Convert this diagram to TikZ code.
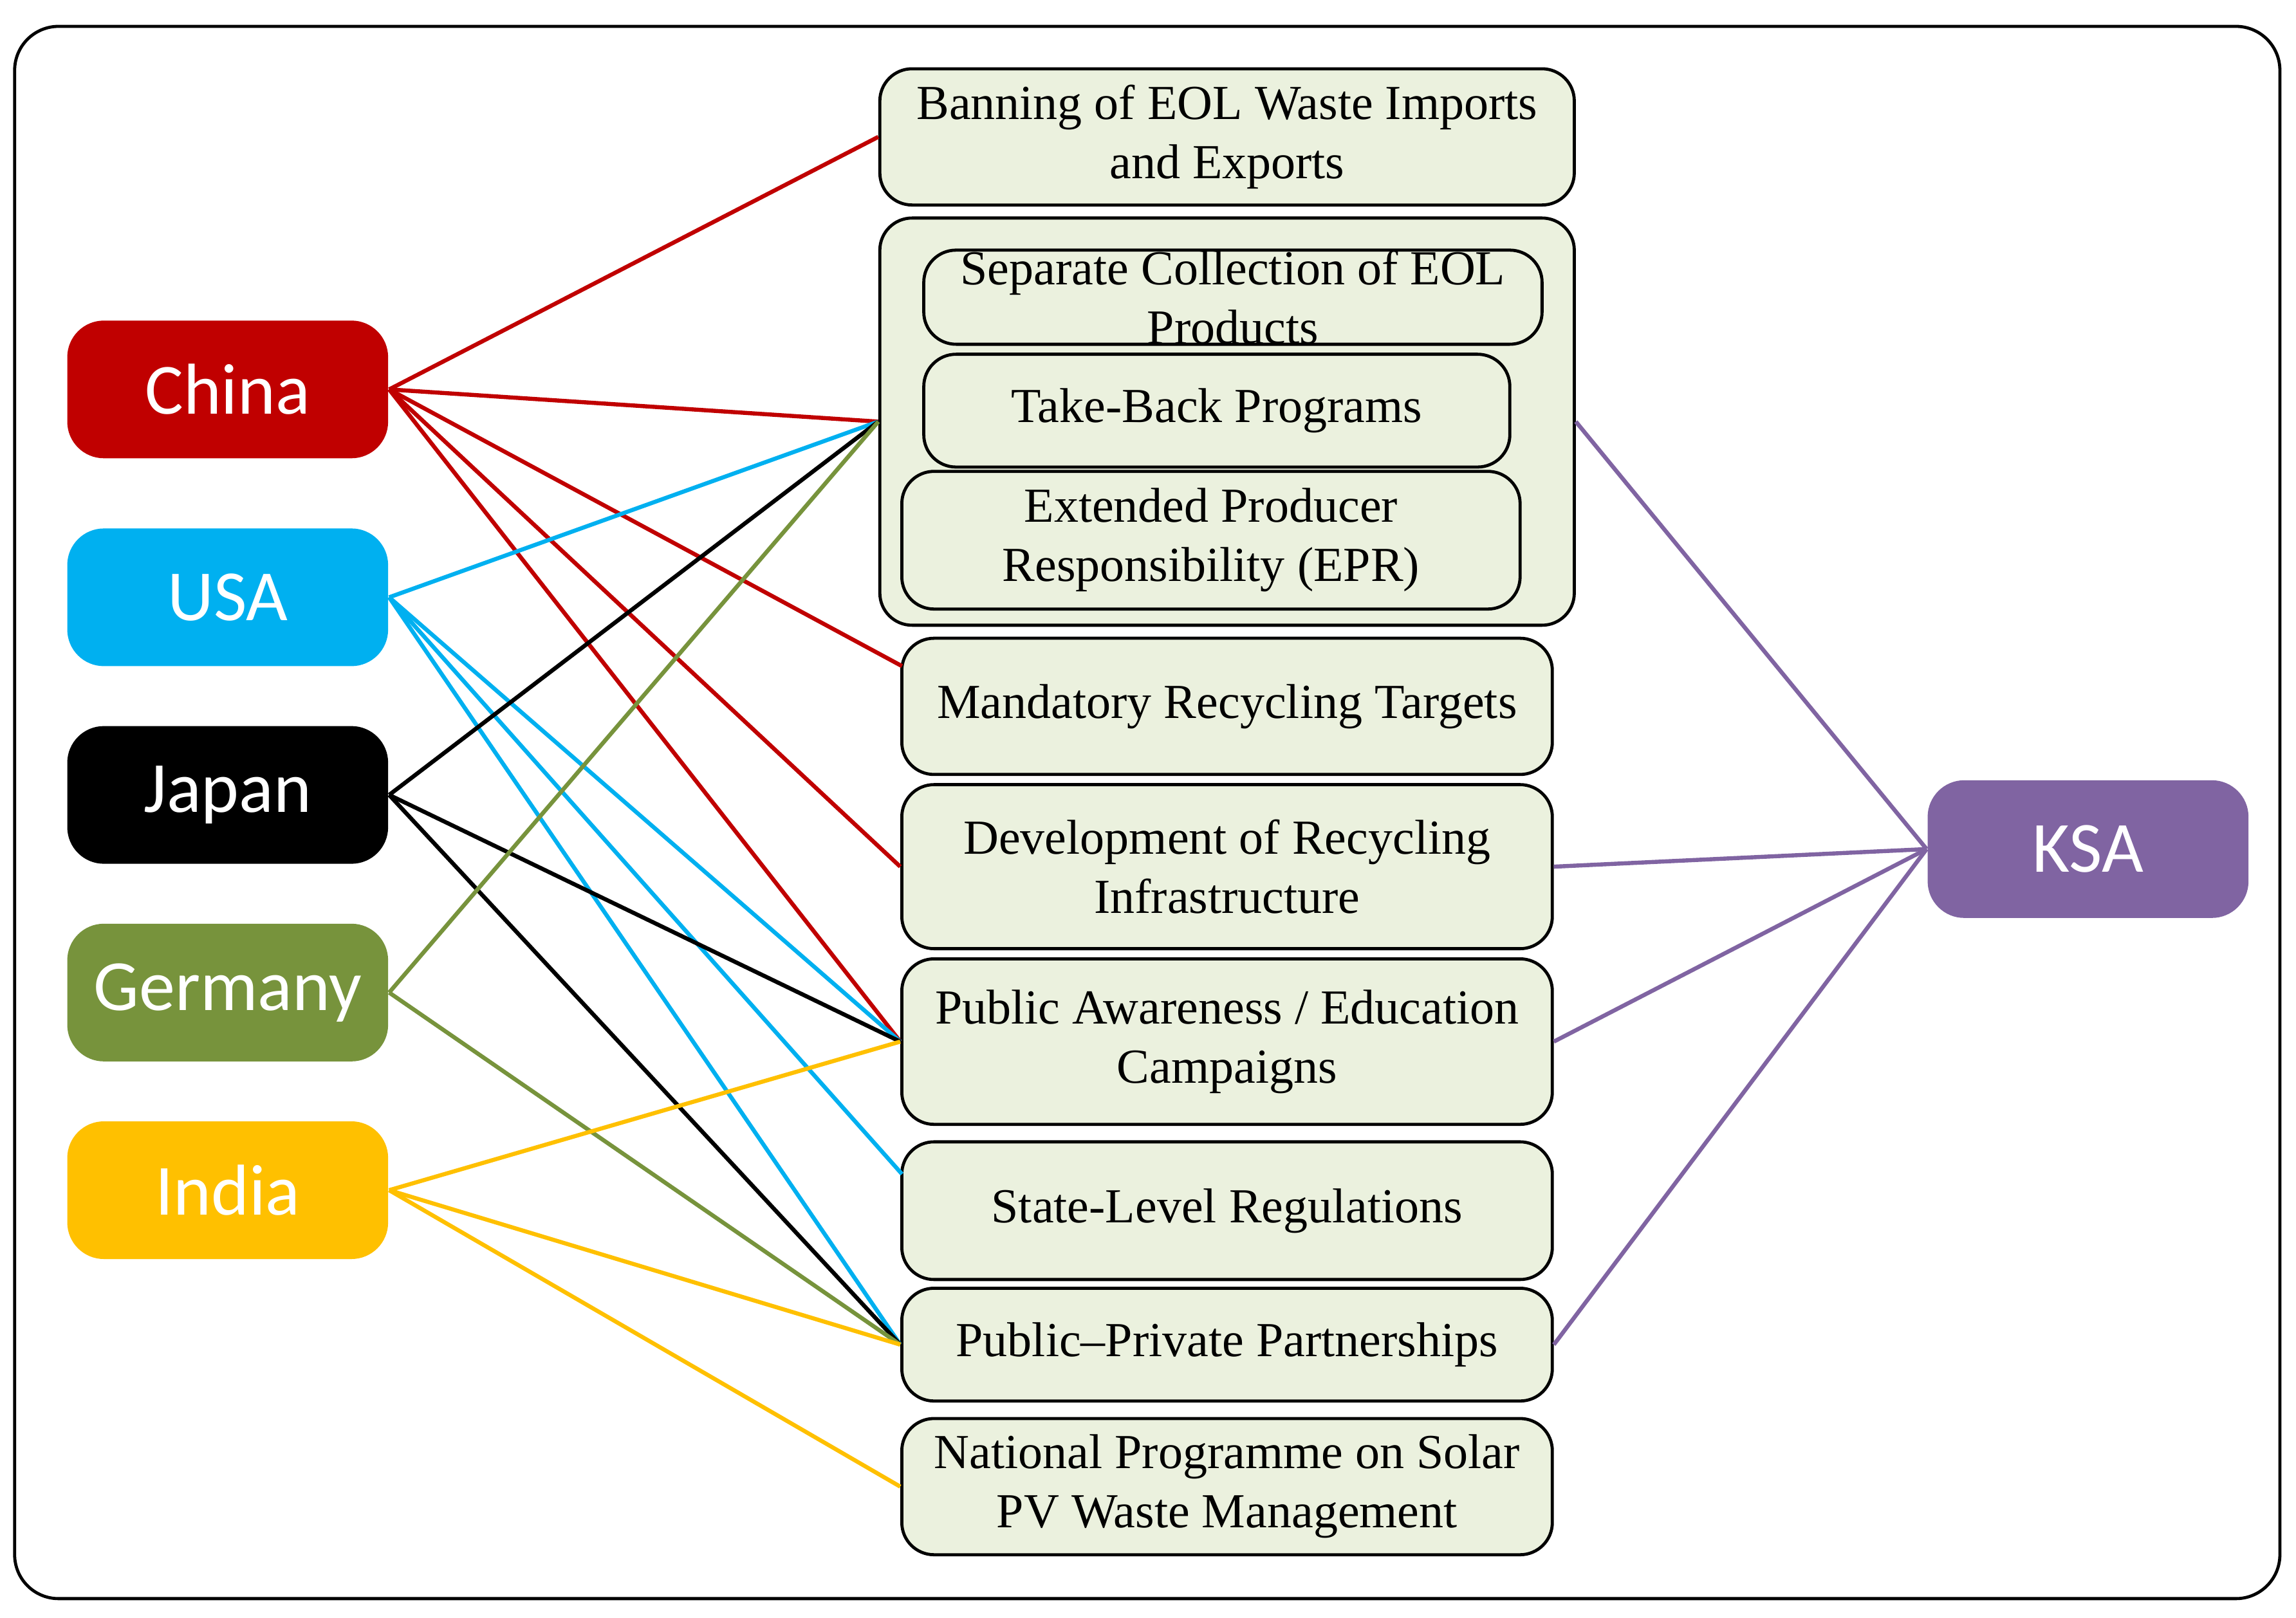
\documentclass[tikz,border=0pt]{standalone}
\usepackage{fontspec}
\setmainfont{Liberation Serif}
\newfontfamily\ctryfont{Carlito}
\begin{document}
\begin{tikzpicture}[x=0.01cm,y=-0.01cm,
 box/.style={draw,rounded corners=0.22cm,fill=boxfill,line width=0.6pt,align=center,font=\fontsize{9.5}{11.5}\selectfont,inner sep=0pt},
 ctry/.style={rounded corners=0.25cm,minimum width=2.19cm,minimum height=0.94cm,text=white,font=\ctryfont\fontsize{14}{16}\selectfont,inner sep=0pt},
 ln/.style={line width=0.8pt}]
\definecolor{boxfill}{HTML}{EBF1DE}
\definecolor{cchina}{HTML}{C00000}
\definecolor{cusa}{HTML}{00B0F0}
\definecolor{cger}{HTML}{77933C}
\definecolor{cind}{HTML}{FFC000}
\definecolor{cksa}{HTML}{8064A2}
\useasboundingbox (0,0) rectangle (1568,1105);
\draw[rounded corners=0.3cm,line width=0.6pt] (10,18) rectangle (1557,1092);
% countries
\node[ctry,fill=cchina] (china) at (155.5,266) {China};
\node[ctry,fill=cusa] (usa) at (155.5,408) {USA};
\node[ctry,fill=black] (japan) at (155.5,543) {Japan};
\node[ctry,fill=cger] (germany) at (155.5,678) {Germany};
\node[ctry,fill=cind] (india) at (155.5,813) {India};
\node[ctry,fill=cksa] (ksa) at (1426,580) {KSA};
% boxes
\node[box,minimum width=4.74cm,minimum height=0.93cm] (ban) at (838,93.5) {Banning of EOL Waste Imports\\and Exports};
\node[box,minimum width=4.74cm,minimum height=2.78cm] (grp) at (838,288) {};
\node[box,minimum width=4.22cm,minimum height=0.64cm] (sep) at (842,203) {Separate Collection of EOL\\Products};
\node[box,minimum width=4.00cm,minimum height=0.77cm] (take) at (831,280.5) {Take-Back Programs};
\node[box,minimum width=4.22cm,minimum height=0.94cm] (epr) at (827,369) {Extended Producer\\Responsibility (EPR)};
\node[box,minimum width=4.44cm,minimum height=0.93cm] (mand) at (838,482.5) {Mandatory Recycling Targets};
\node[box,minimum width=4.44cm,minimum height=1.12cm] (dev) at (838,592) {Development of Recycling\\Infrastructure};
\node[box,minimum width=4.44cm,minimum height=1.13cm] (pa) at (838,711.5) {Public Awareness / Education\\Campaigns};
\node[box,minimum width=4.44cm,minimum height=0.94cm] (state) at (838,827) {State-Level Regulations};
\node[box,minimum width=4.44cm,minimum height=0.77cm] (ppp) at (838,918.5) {Public--Private Partnerships};
\node[box,minimum width=4.44cm,minimum height=0.93cm] (nat) at (838,1015.5) {National Programme on Solar\\PV Waste Management};
\coordinate (mandw) at (616,455);
\coordinate (statew) at (616,802);
% lines
\draw[ln,cchina] (china.east) -- (ban.west);
\draw[ln,cchina] (china.east) -- (grp.west);
\draw[ln,cchina] (china.east) -- (mandw);
\draw[ln,cchina] (china.east) -- (dev.west);
\draw[ln,cchina] (china.east) -- (pa.west);
\draw[ln,cusa] (usa.east) -- (grp.west);
\draw[ln,cusa] (usa.east) -- (pa.west);
\draw[ln,cusa] (usa.east) -- (statew);
\draw[ln,cusa] (usa.east) -- (ppp.west);
\draw[ln,black] (japan.east) -- (grp.west);
\draw[ln,black] (japan.east) -- (pa.west);
\draw[ln,black] (japan.east) -- (ppp.west);
\draw[ln,cger] (germany.east) -- (grp.west);
\draw[ln,cger] (germany.east) -- (ppp.west);
\draw[ln,cind] (india.east) -- (pa.west);
\draw[ln,cind] (india.east) -- (ppp.west);
\draw[ln,cind] (india.east) -- (nat.west);
\draw[ln,cksa] (ksa.west) -- (grp.east);
\draw[ln,cksa] (ksa.west) -- (dev.east);
\draw[ln,cksa] (ksa.west) -- (pa.east);
\draw[ln,cksa] (ksa.west) -- (ppp.east);
\end{tikzpicture}
\end{document}
